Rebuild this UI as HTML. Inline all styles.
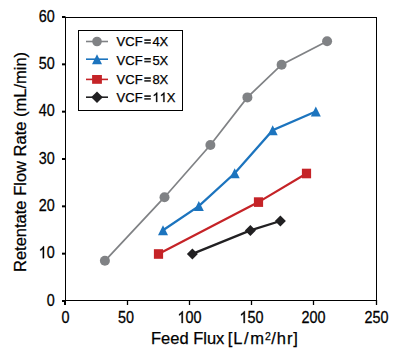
<!DOCTYPE html><html><head><meta charset="utf-8"><style>html,body{margin:0;padding:0;background:#fff;}svg{display:block;font-family:"Liberation Sans",sans-serif;}text{stroke:#000;stroke-width:0.25px;}</style></head><body>
<svg width="400" height="361" viewBox="0 0 400 361">
<rect x="65.5" y="17.5" width="311" height="283" fill="none" stroke="#000" stroke-width="1"/>
<line x1="62" y1="301.00" x2="65.5" y2="301.00" stroke="#000" stroke-width="2"/>
<g transform="translate(54.7,305.50) scale(0.96,1.1)"><text x="-8.342" y="0" font-size="15">0</text></g>
<line x1="62" y1="253.67" x2="65.5" y2="253.67" stroke="#000" stroke-width="2"/>
<g transform="translate(54.7,258.17) scale(0.96,1.1)"><path transform="translate(-16.685,0) scale(0.00732,-0.00732)" d="M763,0H583V1147C540,1106 483,1064 413,1023C343,982 280,951 224,930V1104C325,1151 413,1208 488,1276C563,1343 616,1409 648,1472H763Z" fill="#000" stroke="#000" stroke-width="41.0"/><text x="-8.342" y="0" font-size="15">0</text></g>
<line x1="62" y1="206.33" x2="65.5" y2="206.33" stroke="#000" stroke-width="2"/>
<g transform="translate(54.7,210.83) scale(0.96,1.1)"><text x="-16.685" y="0" font-size="15">2</text><text x="-8.342" y="0" font-size="15">0</text></g>
<line x1="62" y1="159.00" x2="65.5" y2="159.00" stroke="#000" stroke-width="2"/>
<g transform="translate(54.7,163.50) scale(0.96,1.1)"><text x="-16.685" y="0" font-size="15">3</text><text x="-8.342" y="0" font-size="15">0</text></g>
<line x1="62" y1="111.67" x2="65.5" y2="111.67" stroke="#000" stroke-width="2"/>
<g transform="translate(54.7,116.17) scale(0.96,1.1)"><text x="-16.685" y="0" font-size="15">4</text><text x="-8.342" y="0" font-size="15">0</text></g>
<line x1="62" y1="64.33" x2="65.5" y2="64.33" stroke="#000" stroke-width="2"/>
<g transform="translate(54.7,68.83) scale(0.96,1.1)"><text x="-16.685" y="0" font-size="15">5</text><text x="-8.342" y="0" font-size="15">0</text></g>
<line x1="62" y1="17.00" x2="65.5" y2="17.00" stroke="#000" stroke-width="2"/>
<g transform="translate(54.7,21.50) scale(0.96,1.1)"><text x="-16.685" y="0" font-size="15">6</text><text x="-8.342" y="0" font-size="15">0</text></g>
<line x1="65" y1="300" x2="65" y2="305" stroke="#000" stroke-width="2"/>
<g transform="translate(65.50,323) scale(0.96,1.1)"><text x="-4.171" y="0" font-size="15">0</text></g>
<line x1="127.50" y1="300" x2="127.50" y2="305" stroke="#000" stroke-width="1.3"/>
<g transform="translate(126.00,323) scale(0.96,1.1)"><text x="-8.342" y="0" font-size="15">5</text><text x="0.000" y="0" font-size="15">0</text></g>
<line x1="189.50" y1="300" x2="189.50" y2="305" stroke="#000" stroke-width="1.3"/>
<g transform="translate(189.50,323) scale(0.96,1.1)"><path transform="translate(-12.513,0) scale(0.00732,-0.00732)" d="M763,0H583V1147C540,1106 483,1064 413,1023C343,982 280,951 224,930V1104C325,1151 413,1208 488,1276C563,1343 616,1409 648,1472H763Z" fill="#000" stroke="#000" stroke-width="41.0"/><text x="-4.171" y="0" font-size="15">0</text><text x="4.171" y="0" font-size="15">0</text></g>
<line x1="251.50" y1="300" x2="251.50" y2="305" stroke="#000" stroke-width="1.3"/>
<g transform="translate(251.50,323) scale(0.96,1.1)"><path transform="translate(-12.513,0) scale(0.00732,-0.00732)" d="M763,0H583V1147C540,1106 483,1064 413,1023C343,982 280,951 224,930V1104C325,1151 413,1208 488,1276C563,1343 616,1409 648,1472H763Z" fill="#000" stroke="#000" stroke-width="41.0"/><text x="-4.171" y="0" font-size="15">5</text><text x="4.171" y="0" font-size="15">0</text></g>
<line x1="313.50" y1="300" x2="313.50" y2="305" stroke="#000" stroke-width="1.3"/>
<g transform="translate(313.50,323) scale(0.96,1.1)"><text x="-12.513" y="0" font-size="15">2</text><text x="-4.171" y="0" font-size="15">0</text><text x="4.171" y="0" font-size="15">0</text></g>
<line x1="376.50" y1="300" x2="376.50" y2="305" stroke="#000" stroke-width="1.3"/>
<g transform="translate(376.50,323) scale(0.96,1.1)"><text x="-12.513" y="0" font-size="15">2</text><text x="-4.171" y="0" font-size="15">5</text><text x="4.171" y="0" font-size="15">0</text></g>
<polyline points="104.9,260.8 164.5,197.2 210.4,145 247.4,97.4 281.6,64.7 327.1,41.2" fill="none" stroke="#808285" stroke-width="1.7"/>
<circle cx="104.9" cy="260.8" r="5" fill="#808285"/>
<circle cx="164.5" cy="197.2" r="5" fill="#808285"/>
<circle cx="210.4" cy="145" r="5" fill="#808285"/>
<circle cx="247.4" cy="97.4" r="5" fill="#808285"/>
<circle cx="281.6" cy="64.7" r="5" fill="#808285"/>
<circle cx="327.1" cy="41.2" r="5" fill="#808285"/>
<polyline points="163,230.2 198.8,206.1 234.7,173.3 272.7,130.3 315.8,111.5" fill="none" stroke="#1c74be" stroke-width="2.3"/>
<path d="M163,225.2 L168,235.2 L158,235.2Z" fill="#1c74be"/>
<path d="M198.8,201.1 L203.8,211.1 L193.8,211.1Z" fill="#1c74be"/>
<path d="M234.7,168.3 L239.7,178.3 L229.7,178.3Z" fill="#1c74be"/>
<path d="M272.7,125.30000000000001 L277.7,135.3 L267.7,135.3Z" fill="#1c74be"/>
<path d="M315.8,106.5 L320.8,116.5 L310.8,116.5Z" fill="#1c74be"/>
<polyline points="158.5,254 258.5,202.1 306.5,173.5" fill="none" stroke="#c52327" stroke-width="2.2"/>
<rect x="153.9" y="249.2" width="9.2" height="9.6" fill="#c52327"/>
<rect x="253.9" y="197.29999999999998" width="9.2" height="9.6" fill="#c52327"/>
<rect x="301.9" y="168.7" width="9.2" height="9.6" fill="#c52327"/>
<polyline points="192.4,253.9 250.4,230.4 280.4,221" fill="none" stroke="#212022" stroke-width="2.3"/>
<path d="M192.4,248.4 L197.9,253.9 L192.4,259.4 L186.9,253.9Z" fill="#212022"/>
<path d="M250.4,224.9 L255.9,230.4 L250.4,235.9 L244.9,230.4Z" fill="#212022"/>
<path d="M280.4,215.5 L285.9,221 L280.4,226.5 L274.9,221Z" fill="#212022"/>
<rect x="78.5" y="30.5" width="104" height="80" fill="#fff" stroke="#000" stroke-width="1"/>
<line x1="86" y1="41.5" x2="108" y2="41.5" stroke="#808285" stroke-width="1.6"/>
<circle cx="97" cy="41.5" r="4.8" fill="#808285"/>
<text x="116.6" y="45.9" font-size="13">VCF</text>
<rect x="144.3" y="39.30" width="6.5" height="1.6" fill="#111"/><rect x="144.3" y="42.10" width="6.5" height="1.6" fill="#222"/>
<g transform="translate(152.4,45.9)"><text x="0.000" y="0" font-size="13">4</text><text x="7.230" y="0" font-size="13">X</text></g>
<line x1="86" y1="59.2" x2="108" y2="59.2" stroke="#1c74be" stroke-width="1.6"/>
<path d="M97,54.2 L102,64.2 L92,64.2Z" fill="#1c74be"/>
<text x="116.6" y="64.6" font-size="13">VCF</text>
<rect x="144.3" y="58.00" width="6.5" height="1.6" fill="#111"/><rect x="144.3" y="60.80" width="6.5" height="1.6" fill="#222"/>
<g transform="translate(152.4,64.6)"><text x="0.000" y="0" font-size="13">5</text><text x="7.230" y="0" font-size="13">X</text></g>
<line x1="86" y1="79.4" x2="108" y2="79.4" stroke="#c52327" stroke-width="1.6"/>
<rect x="92.1" y="75.0" width="9.8" height="8.8" fill="#c52327"/>
<text x="116.6" y="83.9" font-size="13">VCF</text>
<rect x="144.3" y="77.30" width="6.5" height="1.6" fill="#111"/><rect x="144.3" y="80.10" width="6.5" height="1.6" fill="#222"/>
<g transform="translate(152.4,83.9)"><text x="0.000" y="0" font-size="13">8</text><text x="7.230" y="0" font-size="13">X</text></g>
<line x1="86" y1="97.2" x2="108" y2="97.2" stroke="#212022" stroke-width="1.6"/>
<path d="M97,91.4 L102.8,97.2 L97,103.0 L91.2,97.2Z" fill="#212022"/>
<text x="116.6" y="101.9" font-size="13">VCF</text>
<rect x="144.3" y="95.30" width="6.5" height="1.6" fill="#111"/><rect x="144.3" y="98.10" width="6.5" height="1.6" fill="#222"/>
<g transform="translate(152.4,101.9)"><path transform="translate(0.000,0) scale(0.00635,-0.00635)" d="M763,0H583V1147C540,1106 483,1064 413,1023C343,982 280,951 224,930V1104C325,1151 413,1208 488,1276C563,1343 616,1409 648,1472H763Z" fill="#000" stroke="#000" stroke-width="47.3"/><path transform="translate(7.230,0) scale(0.00635,-0.00635)" d="M763,0H583V1147C540,1106 483,1064 413,1023C343,982 280,951 224,930V1104C325,1151 413,1208 488,1276C563,1343 616,1409 648,1472H763Z" fill="#000" stroke="#000" stroke-width="47.3"/><text x="14.460" y="0" font-size="13">X</text></g>
<text x="151" y="344" font-size="16.5">Feed Flux <tspan dx="-1.3" letter-spacing="0.95">[L</tspan><tspan dx="0.6" letter-spacing="0.95">/</tspan><tspan dx="0.7" letter-spacing="0.95">m</tspan><tspan font-size="10.5" dy="-4.2" letter-spacing="0.5">2</tspan><tspan dy="4.2" letter-spacing="0.95">/hr]</tspan></text>
<text transform="translate(26,272) rotate(-90)" x="0" y="0" font-size="16.5">Retentate Flow Rate (mL/min)</text>
</svg></body></html>
